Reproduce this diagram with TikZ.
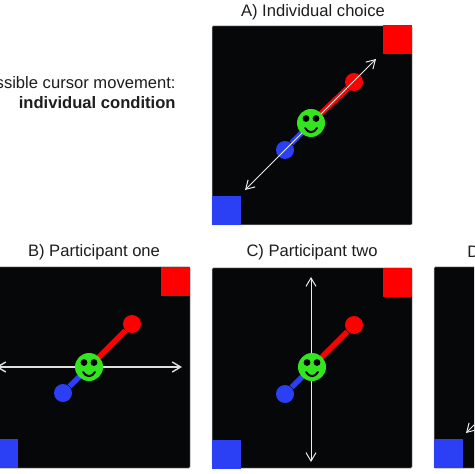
\documentclass[tikz,border=0pt]{standalone}
\usepackage{fontspec}
\setmainfont{Liberation Sans}
\usetikzlibrary{arrows.meta}
\definecolor{panelblack}{HTML}{060709}
\definecolor{targetred}{HTML}{FF0000}
\definecolor{targetblue}{HTML}{2B3FF5}
\definecolor{faceGreen}{HTML}{33E51F}
\definecolor{labelgray}{HTML}{1E1E1E}
\tikzset{
  x=0.5pt, y=-0.5pt,
  panel/.style={fill=panelblack, draw=gray!60, line width=0.25pt, rounded corners=0.5pt},
  target/.style={minimum size=14.5pt, inner sep=0pt, outer sep=0pt},
  redtarget/.style={target, fill=targetred},
  bluetarget/.style={target, fill=targetblue},
  reddot/.style={circle, fill=targetred, minimum size=9pt, inner sep=0pt},
  bluedot/.style={circle, fill=targetblue, minimum size=9pt, inner sep=0pt},
  smiley/.style={circle, fill=faceGreen, minimum size=14pt, inner sep=0pt,
    path picture={
      \fill[black] (path picture bounding box.center) ++(-5,-4.5) circle (1.7pt);
      \fill[black] (path picture bounding box.center) ++(5,-4.5) circle (1.7pt);
      \draw[black, line width=1pt, line cap=round] (path picture bounding box.center) ++(-6,5)
        .. controls +(3,5.5) and +(-3,5.5) .. +(12,0);
    }},
  redstick/.style={targetred, line width=2.8pt},
  bluestick/.style={targetblue, line width=2.8pt},
  moveline/.style={<->, >={Straight Barb[length=4.2pt, width=5pt]}, white!85!gray, line width=0.5pt},
  heading/.style={font=\fontsize{8.3}{10}\selectfont, text=labelgray, inner sep=0pt},
}

\begin{document}
\begin{tikzpicture}
    \useasboundingbox (0,0) rectangle (474,474);
    \clip (0,0) rectangle (474,474);
    \fill[white] (0,0) rectangle (474,474);

    % side text
    \node[heading, anchor=east] (sideone) at (176,83) {ssible cursor movement:};
    \node[heading, anchor=east, font=\fontsize{8.3}{10}\selectfont\bfseries] (sidetwo) at (176,103) {individual condition};

    % A
    \node[heading] (titleA) at (313,12) {A) Individual choice};
    \path[panel] (212,26) rectangle (412,225);
    \node[redtarget] (redA) at (397.5,40) {};
    \node[bluetarget] (blueA) at (226,210.5) {};
    \node[reddot] (rdotA) at (354,82) {};
    \node[bluedot] (bdotA) at (285,150) {};
    \coordinate (cA) at (311,123);
    \draw[redstick] (cA) -- (rdotA);
    \draw[bluestick] (cA) -- (bdotA);
    \coordinate (mA1) at (245,190);
    \coordinate (mA2) at (376,59);
    \draw[moveline] (mA1) -- (mA2);
    \node[smiley] (faceA) at (cA) {};

    % B
    \node[heading] (titleB) at (94,252) {B) Participant one};
    \path[panel] (-10,267) rectangle (190,468);
    \node[redtarget] (redB) at (175.5,282) {};
    \node[bluetarget] (blueB) at (3.5,453.5) {};
    \node[reddot] (rdotB) at (132,324) {};
    \node[bluedot] (bdotB) at (63,393) {};
    \coordinate (cB) at (89,367);
    \draw[redstick] (cB) -- (rdotB);
    \draw[bluestick] (cB) -- (bdotB);
    \coordinate (mB1) at (-4,367);
    \coordinate (mB2) at (182,367);
    \draw[moveline, draw=white!75!gray, line width=0.7pt] (mB1) -- (mB2);
    \node[smiley] (faceB) at (cB) {};

    % C
    \node[heading] (titleC) at (312,252) {C) Participant two};
    \path[panel] (212,268) rectangle (412,468);
    \node[redtarget] (redC) at (397.5,282.5) {};
    \node[bluetarget] (blueC) at (226.5,454) {};
    \node[reddot] (rdotC) at (354,325) {};
    \node[bluedot] (bdotC) at (285,394) {};
    \coordinate (cC) at (312,367);
    \draw[redstick] (cC) -- (rdotC);
    \draw[bluestick] (cC) -- (bdotC);
    \coordinate (mC1) at (311,277);
    \coordinate (mC2) at (311,462);
    \draw[moveline] (mC1) -- (mC2);
    \node[smiley] (faceC) at (cC) {};

    % D
    \node[heading, anchor=west] (titleD) at (467,252) {D};
    \path[panel] (434,267) rectangle (490,468);
    \node[bluetarget] (blueD) at (448,453.5) {};
    \coordinate (mD1) at (466,433);
    \coordinate (mD2) at (500,399);
    \draw[moveline] (mD1) -- (mD2);
  \end{tikzpicture}
\end{document}
